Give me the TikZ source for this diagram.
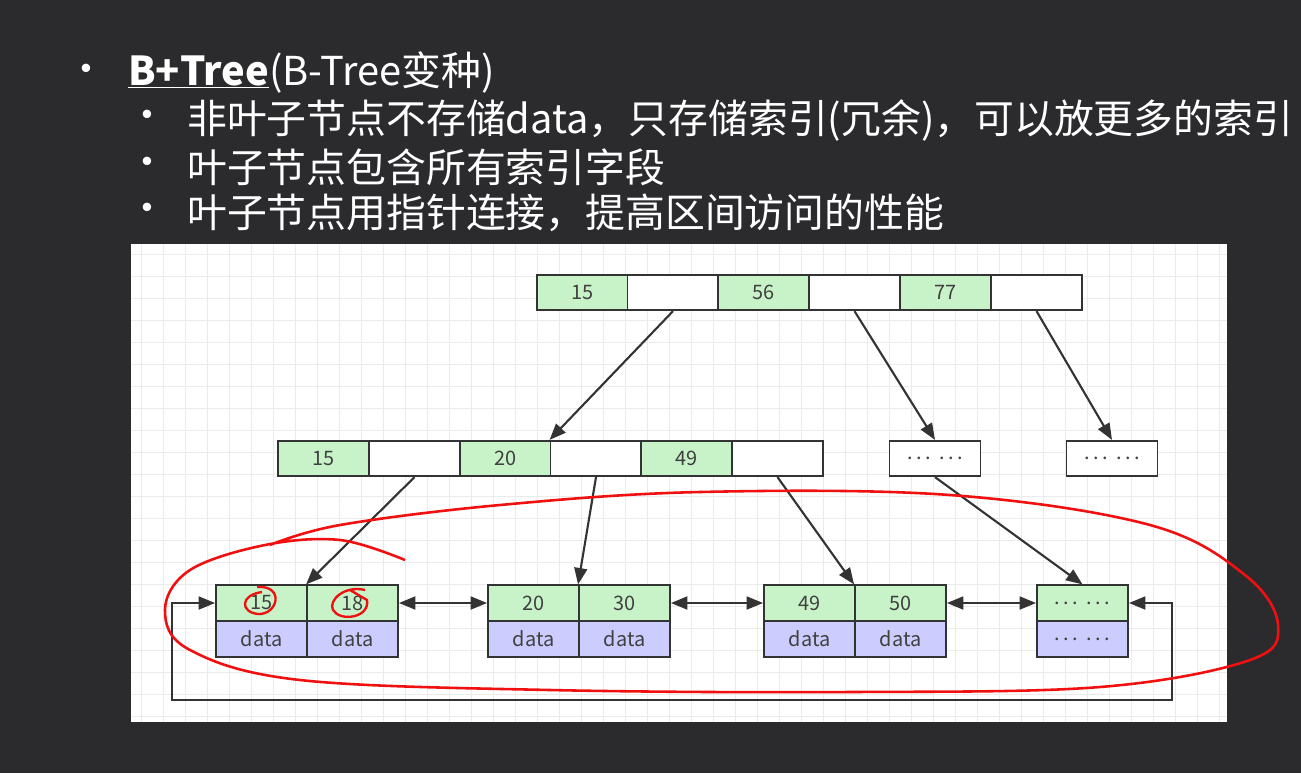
\documentclass[tikz,border=0pt]{standalone}
\usepackage{fontspec}
\setmainfont{Noto Sans CJK SC}
\usetikzlibrary{arrows.meta}
\definecolor{bgdark}{HTML}{2B2B2E}
\definecolor{keygreen}{HTML}{C8F2C8}
\definecolor{datablue}{HTML}{CCCCFF}
\definecolor{gridgray}{HTML}{EBEBEB}
\definecolor{inkred}{HTML}{F01010}
\tikzset{
  cell/.style={draw=black!80, line width=1.6pt, minimum width=2.73cm, minimum height=1.06cm, inner sep=0pt, font=\fontsize{17}{17}\selectfont, text=black!75},
  keycell/.style={cell, fill=keygreen},
  emptycell/.style={cell, fill=white},
  datacell/.style={cell, fill=datablue},
  link/.style={draw=black!80, line width=1.8pt, -{Triangle[length=14pt,width=11pt]}},
  dlink/.style={link, {Triangle[length=14pt,width=11pt]}-{Triangle[length=14pt,width=11pt]}},
  bullet/.style={anchor=west, text=white, font=\fontsize{34}{40}\selectfont, inner sep=0pt}
}
\begin{document}
\begin{tikzpicture}[x=0.03cm,y=-0.03cm]
  %% background and panel
  \fill[bgdark] (0,0) rectangle (1301,773);
  \fill[white] (131,244) rectangle (1227,722);
  \foreach \gx in {141,163,...,1227} \draw[gridgray, line width=0.8pt] (\gx,244) -- (\gx,722);
  \foreach \gy in {254,276,...,722} \draw[gridgray, line width=0.8pt] (131,\gy) -- (1227,\gy);
  %% bullets
  \node[bullet] (b0) at (66,74) {•};
  \node[bullet] (t0) at (128,72) {\textbf{\underline{B+Tree}}(B-Tree变种)};
  \foreach \ty/\txt [count=\i] in {120/非叶子节点不存储data，只存储索引(冗余)，可以放更多的索引, 167/叶子节点包含所有索引字段, 213/叶子节点用指针连接，提高区间访问的性能} {
    \node[bullet] (bs\i) at (127,\ty) {•};
    \node[bullet] (ts\i) at (187,\ty) {\txt};
  }
  %% root
  \node[keycell]   (r1) at (582.5,292.5) {15};
  \node[emptycell] (r2) at (673,292.5) {};
  \node[keycell]   (r3) at (763.5,292.5) {56};
  \node[emptycell] (r4) at (854.5,292.5) {};
  \node[keycell]   (r5) at (945.5,292.5) {77};
  \node[emptycell] (r6) at (1036.5,292.5) {};
  %% second level
  \node[keycell]   (m1) at (323.5,458.5) {15};
  \node[emptycell] (m2) at (414.5,458.5) {};
  \node[keycell]   (m3) at (505.5,458.5) {20};
  \node[emptycell] (m4) at (596,458.5) {};
  \node[keycell]   (m5) at (686.5,458.5) {49};
  \node[emptycell] (m6) at (777.5,458.5) {};
  \node[emptycell] (s1) at (935,458.5) {.\,.\,.\ \ .\,.\,.};
  \node[emptycell] (s2) at (1112,458.5) {.\,.\,.\ \ .\,.\,.};
  %% leaves
  \node[keycell]  (l1a) at (261.5,603) {15};
  \node[keycell]  (l1b) at (352.5,603) {18};
  \node[datacell] (d1a) at (261.5,639) {data};
  \node[datacell] (d1b) at (352.5,639) {data};
  \node[keycell]  (l2a) at (533.5,603) {20};
  \node[keycell]  (l2b) at (624.5,603) {30};
  \node[datacell] (d2a) at (533.5,639) {data};
  \node[datacell] (d2b) at (624.5,639) {data};
  \node[keycell]  (l3a) at (809.5,603) {49};
  \node[keycell]  (l3b) at (900.5,603) {50};
  \node[datacell] (d3a) at (809.5,639) {data};
  \node[datacell] (d3b) at (900.5,639) {data};
  \node[keycell]  (l4a) at (1082.5,603) {.\,.\,.\ \ .\,.\,.};
  \node[datacell] (d4a) at (1082.5,639) {.\,.\,.\ \ .\,.\,.};
  %% pointers
  \draw[link] (r2.south) -- (m4.north west);
  \draw[link] (r4.south) -- (s1.north);
  \draw[link] (r6.south) -- (s2.north);
  \draw[link] (m2.south) -- (l1b.north west);
  \draw[link] (m4.south) -- (l2b.north west);
  \draw[link] (m6.south) -- (l3b.north west);
  \draw[link] (s1.south) -- (l4a.north);
  \draw[dlink] (l1b.east) -- (l2a.west);
  \draw[dlink] (l2b.east) -- (l3a.west);
  \draw[dlink] (l3b.east) -- (l4a.west);
  \coordinate (c1) at (1172,700);
  \coordinate (c2) at (172,700);
  \draw[dlink] (l4a.east) -| (c1) -- (c2) |- (l1a.west);
  %% red marks
  \draw[inkred, line width=2.2pt] plot[smooth, tension=0.6] coordinates {(405,560) (340,540) (265,545) (190,570) (165,610) (190,650) (300,680) (550,690) (850,692) (1100,687) (1250,660) (1278,625) (1245,575) (1150,525) (950,495) (700,492) (500,505) (340,525) (270,545)};
  \draw[inkred, line width=2pt] (257,587) .. controls (285,585) and (278,615) .. (258,614) .. controls (240,612) and (240,595) .. (262,592);
  \draw[inkred, line width=2pt] (365,590) .. controls (345,585) and (328,600) .. (333,610) .. controls (340,622) and (370,618) .. (367,600) -- (350,590);
\end{tikzpicture}
\end{document}
